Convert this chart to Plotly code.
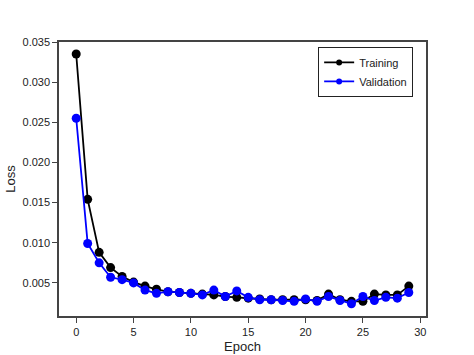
import plotly.graph_objects as go

epochs = list(range(30))
training = [0.0335, 0.0154, 0.0088, 0.0069, 0.0058, 0.0051, 0.0046, 0.0042, 0.0039, 0.0038,
            0.0037, 0.0036, 0.0035, 0.0033, 0.0032, 0.0031, 0.0030, 0.0029, 0.0029, 0.0029,
            0.0029, 0.0028, 0.0036, 0.0029, 0.0027, 0.0027, 0.0036, 0.0035, 0.0035, 0.0046]
validation = [0.0255, 0.0099, 0.0075, 0.0057, 0.0054, 0.0050, 0.0041, 0.0037, 0.0039, 0.0038,
              0.0037, 0.0035, 0.0041, 0.0033, 0.0040, 0.0032, 0.0029, 0.0029, 0.0028, 0.0027,
              0.0030, 0.0027, 0.0033, 0.0028, 0.0024, 0.0033, 0.0028, 0.0032, 0.0031, 0.0038]
x_ticks = [0, 5, 10, 15, 20, 25, 30]
y_ticks = [0.005, 0.010, 0.015, 0.020, 0.025, 0.030, 0.035]
series_names = ["Training", "Validation"]
series_colors = ["black", "#0000ff"]

font = "Liberation Sans, Arial, Helvetica, sans-serif"

fig = go.Figure()
for name, vals, col in zip(series_names, [training, validation], series_colors):
    fig.add_trace(go.Scatter(x=epochs, y=vals, mode="lines+markers", name=name,
                             showlegend=False,
                             line=dict(color=col, width=1.8),
                             marker=dict(color=col, size=9)))
# legend-only entries with smaller glyphs, as in the reference
for name, col in zip(series_names, series_colors):
    fig.add_trace(go.Scatter(x=[None], y=[None], mode="lines+markers", name=name,
                             line=dict(color=col, width=1.8),
                             marker=dict(color=col, size=6)))

axis_common = dict(showgrid=False, zeroline=False, showline=True, linecolor="#444444",
                   linewidth=1.5, mirror=True, ticks="outside", ticklen=5, tickwidth=1.2,
                   tickcolor="#444444", automargin=False,
                   tickfont=dict(family=font, size=11, color="#222222"))

fig.update_xaxes(range=[-1.5, 30.5], tickvals=x_ticks, **axis_common)
fig.update_yaxes(range=[0.000875, 0.035], tickvals=y_ticks, tickformat=".3f", **axis_common)

fig.add_annotation(text="Epoch", xref="paper", yref="paper", x=0.5, y=-0.113,
                   xanchor="center", yanchor="middle", showarrow=False,
                   font=dict(family=font, size=13, color="#222222"))
fig.add_annotation(text="Loss", xref="paper", yref="paper", x=-0.134, y=0.5,
                   xanchor="center", yanchor="middle", showarrow=False, textangle=-90,
                   font=dict(family=font, size=13, color="#222222"))

fig.update_layout(
    width=474, height=355,
    margin=dict(l=59, r=48, t=42, b=39, autoexpand=False),
    paper_bgcolor="white", plot_bgcolor="white",
    font=dict(family=font, size=11, color="#222222"),
    legend=dict(x=0.965, y=0.982, xanchor="right", yanchor="top",
                bordercolor="#222222", borderwidth=1, bgcolor="white",
                font=dict(family=font, size=11, color="#222222"),
                tracegroupgap=0, itemwidth=30),
)

fig.write_html("out.html", config={"displayModeBar": False},
               post_script="document.body.style.margin='0';")
